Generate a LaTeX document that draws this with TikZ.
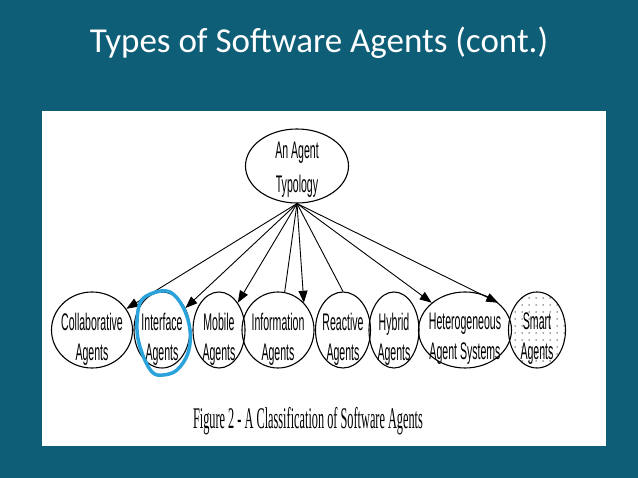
\documentclass[tikz,border=0pt]{standalone}
\usepackage{fontspec}
\usetikzlibrary{shapes.geometric,arrows.meta}
\newfontfamily\titlefont{Carlito}
\newfontfamily\nodefont[FakeStretch=0.44]{Liberation Sans}
\newfontfamily\capfont[FakeStretch=0.41]{Liberation Serif}
\definecolor{slidebg}{HTML}{0F5E78}
\definecolor{penblue}{HTML}{2AA2DC}
\tikzset{
  agent/.style={ellipse, draw, line width=1.1pt, inner sep=0pt, minimum height=76pt},
  every label/.style={align=center, yshift=-9pt, font=\nodefont\fontsize{24}{30}\selectfont},
  arr/.style={-{Triangle[length=12pt,width=9pt]}, line width=0.9pt},
  plain/.style={line width=0.9pt}
}
\begin{document}
\begin{tikzpicture}[x=1pt,y=-1pt]
    \useasboundingbox (0,0) rectangle (638,478);
    \fill[slidebg] (0,0) rectangle (638,478);
    \fill[white] (42,111) rectangle (606,446);
    \node[anchor=base, white, font=\titlefont\fontsize{35}{40}\selectfont] (title) at (319,53) {Types of Software Agents (cont.)};

    % the typology and its kinds
    \node[agent, minimum width=103pt, minimum height=74pt,
      label={[yshift=5pt, font=\nodefont\fontsize{24}{34}\selectfont]center:An Agent\\Typology}] (top) at (297,166) {};
    \begin{scope}
      \clip (537,330) ellipse (28.5 and 38);
      \foreach \i in {0,...,9}
        \foreach \j in {0,...,11}
          \fill[black!70] (508+7*\i,291+7*\j) circle (0.75);
    \end{scope}
    \node[agent, minimum width=81pt, label=center:Collaborative\\Agents] (coll) at (92,330) {};
    \node[agent, minimum width=56pt, label=center:Interface\\Agents] (inter) at (162,330) {};
    \node[agent, minimum width=52pt, label=center:Mobile\\Agents] (mob) at (219,330) {};
    \node[agent, minimum width=72pt, label=center:Information\\Agents] (info) at (278,330) {};
    \node[agent, minimum width=55pt, label=center:Reactive\\Agents] (react) at (343,330) {};
    \node[agent, minimum width=50pt, label=center:Hybrid\\Agents] (hyb) at (394,330) {};
    \node[agent, minimum width=93pt, label=center:Heterogeneous\\Agent Systems] (het) at (465,330) {};
    \node[agent, minimum width=57pt, label=center:Smart\\Agents] (smart) at (537,330) {};

    \draw[arr] (top.south) -- (coll);
    \draw[arr] (top.south) -- (inter);
    \draw[arr] (top.south) -- (mob.north east);
    \draw[plain] (top.south) -- (info.80);
    \draw[arr] (top.south) -- (info.north east);
    \draw[plain] (top.south) -- (react.north);
    \draw[arr] (top.south) -- (het.north west);
    \draw[arr] (top.south) -- (het.north east);

    % hand drawn ring
    \draw[penblue, line width=3.5pt, line join=round] plot[smooth cycle, tension=0.6] coordinates
      {(140,303) (153,293) (170,292) (183,307) (190,330) (188,353) (177,370) (163,375) (152,372) (142,353) (137,330)};

    \node[anchor=base, font=\capfont\fontsize{30}{34}\selectfont] (cap) at (308,429) {Figure 2 - A Classification of Software Agents};
  \end{tikzpicture}
\end{document}
